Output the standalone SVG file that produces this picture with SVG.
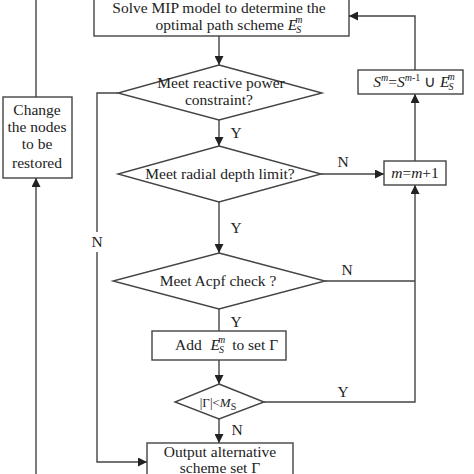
<svg xmlns="http://www.w3.org/2000/svg" width="474" height="474" viewBox="0 0 474 474">
<style>
.box{fill:#fff;stroke:#444;stroke-width:1.4}
.ln{fill:none;stroke:#444;stroke-width:1.4}
text{font-family:"Liberation Serif","Times New Roman",serif;font-size:15.5px;fill:#222}
.c{text-anchor:middle}
.i{font-style:italic}
.s{font-size:10px}
</style>
<defs>
<marker id="ah" viewBox="0 0 10 10" refX="10" refY="5" markerWidth="9" markerHeight="9" markerUnits="userSpaceOnUse" orient="auto">
<path d="M0,0 L10,5 L0,10 Z" fill="#222"/>
</marker>
</defs>
<rect width="474" height="474" fill="#fff"/>
<g id="connectors">
<line class="ln" x1="219" y1="36" x2="219" y2="65" marker-end="url(#ah)"/>
<line class="ln" x1="219" y1="120" x2="219" y2="146" marker-end="url(#ah)"/>
<line class="ln" x1="219" y1="202" x2="219" y2="253" marker-end="url(#ah)"/>
<line class="ln" x1="219" y1="309" x2="219" y2="331"/>
<line class="ln" x1="219" y1="360" x2="219" y2="384" marker-end="url(#ah)"/>
<line class="ln" x1="219" y1="419" x2="219" y2="443" marker-end="url(#ah)"/>
<line class="ln" x1="321" y1="174" x2="384" y2="174" marker-end="url(#ah)"/>
<polyline class="ln" points="325,281 415,281"/>
<polyline class="ln" points="264,402 415,402 415,185" marker-end="url(#ah)"/>
<line class="ln" x1="415" y1="161" x2="415" y2="94" marker-end="url(#ah)"/>
<polyline class="ln" points="415,70 415,16 349,16" marker-end="url(#ah)"/>
<polyline class="ln" points="118,93 97,93 97,232"/>
<polyline class="ln" points="97,252 97,462 147,462" marker-end="url(#ah)"/>
<line class="ln" x1="36" y1="0" x2="36" y2="97"/>
<line class="ln" x1="36" y1="474" x2="36" y2="178" marker-end="url(#ah)"/>
<text x="236" y="138" class="c">Y</text>
<text x="236" y="233" class="c">Y</text>
<text x="236" y="327" class="c">Y</text>
<text x="237" y="435" class="c">N</text>
<text x="343" y="167" class="c">N</text>
<text x="347" y="275" class="c">N</text>
<text x="343" y="397" class="c">Y</text>
<text x="97" y="247" class="c">N</text>
</g>
<g id="solve">
<rect class="box" x="94" y="-5" width="255" height="41"/>
<text x="219" y="13" class="c">Solve MIP model to determine the</text>
<text x="229" y="30" class="c">optimal path scheme <tspan class="i">E</tspan><tspan class="i s" dx="-1" dy="3">S</tspan><tspan class="i s" dx="-6" dy="-10">m</tspan></text>
</g>
<g id="change">
<rect class="box" x="3" y="97" width="69" height="81"/>
<text x="37" y="115" class="c">Change</text>
<text x="37" y="132" class="c">the nodes</text>
<text x="37" y="149" class="c">to be</text>
<text x="37" y="168" class="c">restored</text>
</g>
<g id="reactive">
<polygon class="box" points="219,65 322,93 219,120 118,93"/>
<text x="221" y="88" class="c">Meet reactive power</text>
<text x="219" y="105" class="c">constraint?</text>
</g>
<g id="radial">
<polygon class="box" points="219,146 321,174 219,202 118,174"/>
<text x="220" y="179" class="c">Meet radial depth limit?</text>
</g>
<g id="acpf">
<polygon class="box" points="219,253 325,281 219,309 113,281"/>
<text x="218" y="286" class="c">Meet Acpf check ?</text>
</g>
<g id="add">
<rect class="box" x="152" y="331" width="134" height="29"/>
<text x="175" y="350">Add <tspan class="i" dx="5">E</tspan><tspan class="i s" dx="-1" dy="3">S</tspan><tspan class="i s" dx="-6" dy="-10">m</tspan><tspan dy="7" dx="3"> to set Γ</tspan></text>
</g>
<g id="gamma">
<polygon class="box" points="219,384 264,402 219,419 175,402"/>
<text x="218" y="407" class="c" style="font-size:13px">|Γ|&lt;<tspan class="i">M</tspan><tspan class="s" dy="3">S</tspan></text>
</g>
<g id="output">
<rect class="box" x="147" y="443" width="146" height="40"/>
<text x="220" y="457" class="c">Output alternative</text>
<text x="220" y="473" class="c">scheme set Γ</text>
</g>
<g id="mm1">
<rect class="box" x="384" y="161" width="62" height="24"/>
<text x="415" y="178" class="c"><tspan class="i">m</tspan>=<tspan class="i">m</tspan>+1</text>
</g>
<g id="smset">
<rect class="box" x="358" y="70" width="105" height="24"/>
<text x="414" y="87" class="c"><tspan class="i">S</tspan><tspan class="i s" dy="-6">m</tspan><tspan dy="6">=</tspan><tspan class="i">S</tspan><tspan class="s" dy="-6"><tspan class="i">m</tspan>-1</tspan><tspan dy="6"> ∪  </tspan><tspan class="i">E</tspan><tspan class="i s" dx="-1" dy="3">S</tspan><tspan class="i s" dx="-6" dy="-10">m</tspan></text>
</g>
</svg>
